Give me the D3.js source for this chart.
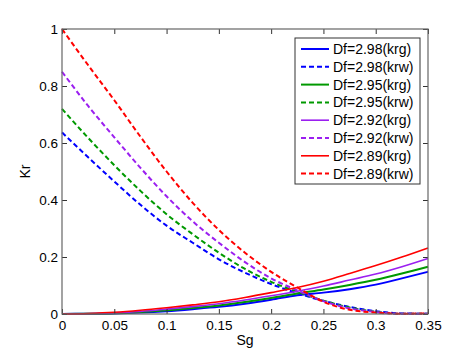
<!DOCTYPE html>
<html>
<head>
<meta charset="utf-8">
<script src="https://cdn.jsdelivr.net/npm/d3@7"></script>
<style>
  body { margin: 0; background: #fff; }
  text { font-family: "Liberation Sans", Arial, sans-serif; }
</style>
</head>
<body>
<div id="container"></div>
<script>
let w = 474;
let h = 353;

// saturation values (x axis)
let sg = [0, 0.025, 0.05, 0.075, 0.1, 0.125, 0.15, 0.175, 0.2, 0.225, 0.25, 0.275, 0.3, 0.325, 0.35];

// krg (solid) per fractal dimension
let krg298 = [0, 0.001, 0.002, 0.005, 0.010, 0.017, 0.025, 0.036, 0.050, 0.066, 0.075, 0.087, 0.103, 0.125, 0.148];
let krg295 = [0, 0.001, 0.003, 0.007, 0.013, 0.021, 0.030, 0.042, 0.056, 0.072, 0.086, 0.102, 0.120, 0.142, 0.166];
let krg292 = [0, 0.001, 0.004, 0.009, 0.017, 0.026, 0.036, 0.049, 0.064, 0.080, 0.098, 0.119, 0.140, 0.166, 0.195];
let krg289 = [0, 0.002, 0.006, 0.013, 0.022, 0.032, 0.043, 0.058, 0.075, 0.093, 0.115, 0.142, 0.170, 0.200, 0.232];

// krw (dashed)
let krw298 = [0.637, 0.55, 0.465, 0.383, 0.31, 0.25, 0.192, 0.145, 0.105, 0.073, 0.046, 0.025, 0.010, 0.002, 0.001];
let krw295 = [0.72, 0.618, 0.522, 0.432, 0.35, 0.28, 0.215, 0.158, 0.113, 0.078, 0.047, 0.023, 0.008, 0.001, 0.001];
let krw292 = [0.85, 0.73, 0.62, 0.513, 0.413, 0.325, 0.25, 0.182, 0.125, 0.083, 0.045, 0.020, 0.007, 0.001, 0.001];
let krw289 = [1.0, 0.873, 0.75, 0.622, 0.5, 0.39, 0.295, 0.215, 0.148, 0.093, 0.043, 0.015, 0.005, 0.001, 0.002];

let xTicks = [0, 0.05, 0.1, 0.15, 0.2, 0.25, 0.3, 0.35];
let yTicks = [0, 0.2, 0.4, 0.6, 0.8, 1];

let series = [
  {name: "Df=2.98(krg)", values: krg298, color: "#0000ff", dash: false, lw: 2},
  {name: "Df=2.98(krw)", values: krw298, color: "#0000ff", dash: true, lw: 2},
  {name: "Df=2.95(krg)", values: krg295, color: "#009900", dash: false, lw: 2},
  {name: "Df=2.95(krw)", values: krw295, color: "#009900", dash: true, lw: 2},
  {name: "Df=2.92(krg)", values: krg292, color: "#9b1ff0", dash: false, lw: 1.6},
  {name: "Df=2.92(krw)", values: krw292, color: "#9b1ff0", dash: true, lw: 2},
  {name: "Df=2.89(krg)", values: krg289, color: "#ff0000", dash: false, lw: 1.6},
  {name: "Df=2.89(krw)", values: krw289, color: "#ff0000", dash: true, lw: 2}
];

let margin = {left: 62, right: 46, top: 29, bottom: 39};

let viz = d3.select("#container")
  .append("svg")
    .attr("width", w)
    .attr("height", h)
    .style("background-color", "white")
;

let xScale = d3.scaleLinear().domain([0, 0.35]).range([margin.left, w - margin.right]);
let yScale = d3.scaleLinear().domain([0, 1]).range([h - margin.bottom, margin.top]);

// curves
let line = d3.line()
  .x(function(d){ return xScale(d[0]); })
  .y(function(d){ return yScale(d[1]); })
  .curve(d3.curveMonotoneX)
;

let plot = viz.append("g");
series.forEach(function(s){
  let pts = sg.map(function(x, i){ return [x, s.values[i]]; });
  plot.append("path")
    .attr("d", line(pts))
    .attr("fill", "none")
    .attr("stroke", s.color)
    .attr("stroke-width", s.lw)
    .attr("stroke-dasharray", s.dash ? "5,3" : null)
  ;
});

// axes box with inward ticks
let x0 = xScale(0), x1 = xScale(0.35);
let y0 = yScale(0), y1 = yScale(1);
let tickLen = 5;

let bottomAxis = d3.axisBottom(xScale).tickValues(xTicks).tickSizeInner(-tickLen).tickSizeOuter(0).tickFormat(d3.format("~g"));
let topAxis = d3.axisTop(xScale).tickValues(xTicks).tickSizeInner(-tickLen).tickSizeOuter(0).tickFormat("");
let leftAxis = d3.axisLeft(yScale).tickValues(yTicks).tickSizeInner(-tickLen).tickSizeOuter(0).tickFormat(d3.format("~g"));
let rightAxis = d3.axisRight(yScale).tickValues(yTicks).tickSizeInner(-tickLen).tickSizeOuter(0).tickFormat("");

function styleAxis(g){
  g.select(".domain").remove();
  g.selectAll("line").attr("stroke", "#333");
  g.selectAll("text").attr("fill", "#000").style("font-size", "13.5px").style("font-family", "Liberation Sans, Arial, sans-serif");
}

viz.append("g").attr("transform", "translate(0," + y0 + ")").call(bottomAxis).call(styleAxis)
  .selectAll("text").attr("dy", "0.95em").attr("y", 3);
viz.append("g").attr("transform", "translate(0," + y1 + ")").call(topAxis).call(styleAxis);
viz.append("g").attr("transform", "translate(" + x0 + ",0)").call(leftAxis).call(styleAxis)
  .selectAll("text").attr("x", -4);
viz.append("g").attr("transform", "translate(" + x1 + ",0)").call(rightAxis).call(styleAxis);

viz.append("rect")
  .attr("x", x0).attr("y", y1)
  .attr("width", x1 - x0).attr("height", y0 - y1)
  .attr("fill", "none").attr("stroke", "#666").attr("stroke-width", 1.2)
;

// axis labels
viz.append("text")
  .attr("x", (x0 + x1) / 2).attr("y", 345)
  .attr("text-anchor", "middle")
  .style("font-size", "14px")
  .text("Sg")
;
viz.append("text")
  .attr("transform", "translate(30," + ((y0 + y1) / 2) + ") rotate(-90)")
  .attr("text-anchor", "middle")
  .style("font-size", "14px")
  .text("Kr")
;

// legend
let legend = viz.append("g").attr("transform", "translate(295,38)");
legend.append("rect")
  .attr("width", 125).attr("height", 146)
  .attr("fill", "white").attr("stroke", "#333").attr("stroke-width", 1)
;
let items = legend.selectAll(".item").data(series).enter()
  .append("g")
    .attr("class", "item")
    .attr("transform", function(d, i){ return "translate(0," + (11 + i * 17.8) + ")"; })
;
items.append("line")
  .attr("x1", 6).attr("x2", 34)
  .attr("stroke", function(d){ return d.color; })
  .attr("stroke-width", function(d){ return d.lw; })
  .attr("stroke-dasharray", function(d){ return d.dash ? "5,3" : null; })
;
items.append("text")
  .attr("x", 38).attr("dy", "0.36em")
  .style("font-size", "14px")
  .text(function(d){ return d.name; })
;
</script>
</body>
</html>
